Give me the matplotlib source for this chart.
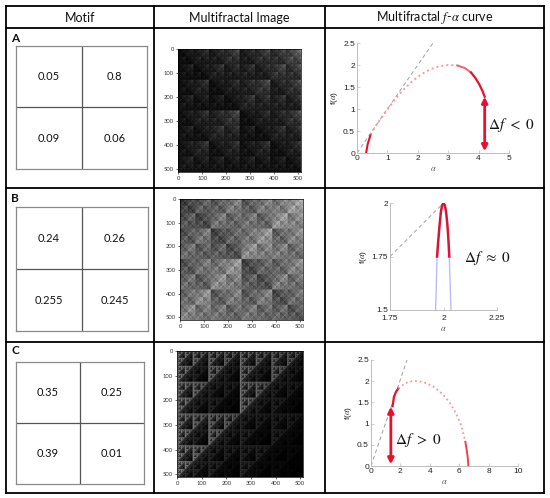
import numpy as np
import matplotlib
matplotlib.use("Agg")
import matplotlib.pyplot as plt
from matplotlib.lines import Line2D

# ---------------- data ----------------
motif_A = [[0.05, 0.8], [0.09, 0.06]]
motif_B = [[0.24, 0.26], [0.255, 0.245]]
motif_C = [[0.35, 0.25], [0.39, 0.01]]
row_labels = ["A", "B", "C"]
headers = ["Motif", "Multifractal Image", r"Multifractal $f$-$\alpha$ curve"]
cascade_levels = 9

# f-alpha curves
alpha_A = [0.30, 0.35, 0.45, 0.60, 0.80, 1.00, 1.25, 1.50, 1.80, 2.10, 2.40, 2.70,
           3.00, 3.30, 3.55, 3.75, 3.90, 4.03, 4.12, 4.20]
f_A = [0.00, 0.20, 0.42, 0.60, 0.80, 0.99, 1.22, 1.42, 1.62, 1.78, 1.90, 1.97,
       2.00, 1.99, 1.93, 1.83, 1.70, 1.55, 1.42, 1.28]
alpha_B_red = [1.970, 1.976, 1.982, 1.988, 1.994, 2.000, 2.006, 2.012, 2.018, 2.023, 2.027]
f_B_red = [1.75, 1.83, 1.90, 1.96, 1.99, 2.00, 1.99, 1.96, 1.90, 1.83, 1.75]
alpha_B_left_blue = [1.963, 1.970]
f_B_left_blue = [1.50, 1.75]
alpha_B_right_blue = [2.027, 2.035]
f_B_right_blue = [1.75, 1.50]
alpha_C = [1.47, 1.56, 1.70, 1.86, 2.31, 2.88, 3.40, 3.79, 4.25, 4.69, 5.05, 5.37,
           5.67, 5.94, 6.15, 6.28, 6.42, 6.51, 6.58, 6.62]
f_C = [1.41, 1.63, 1.75, 1.83, 1.95, 2.01, 1.99, 1.95, 1.87, 1.75, 1.63, 1.48,
       1.31, 1.13, 0.95, 0.77, 0.57, 0.38, 0.20, 0.02]

# reference (f = alpha) dashed lines
ref_A = ([0.0, 2.5], [0.0, 2.5])
ref_B = ([1.75, 1.99], [1.75, 1.99])
ref_C = ([0.0, 2.45], [0.0, 2.5])

# delta-f arrows (alpha, f_low, f_high)
arrow_A = (4.2, 0.04, 1.28)
arrow_C = (1.35, 0.04, 1.40)

delta_texts = [r"$\Delta f\ <\ 0$", r"$\Delta f\ \approx\ 0$", r"$\Delta f\ >\ 0$"]

# ---------------- helpers ----------------
W, H = 550, 498
plt.rcParams["font.family"] = ["Lato", "DejaVu Sans"]
plt.rcParams["mathtext.fontset"] = "stix"

fig = plt.figure(figsize=(W / 100, H / 100), dpi=100)


def ax_px(x0, y0, x1, y1):
    return fig.add_axes([x0 / W, 1 - y1 / H, (x1 - x0) / W, (y1 - y0) / H])


def hline(y, x0, x1, **kw):
    fig.add_artist(Line2D([x0 / W, x1 / W], [1 - y / H, 1 - y / H], **kw))


def vline(x, y0, y1, **kw):
    fig.add_artist(Line2D([x / W, x / W], [1 - y0 / H, 1 - y1 / H], **kw))


# ---------------- table frame ----------------
L, R, T, HB, B = 6, 544, 6, 28, 493
row_y = [HB, 188, 342, B]
col_x = [L, 154, 325, R]
lk = dict(color="black", lw=1.3)
for y in [T] + row_y:
    hline(y, L, R, **lk)
for x in col_x:
    vline(x, T, B, **lk)

for i, h in enumerate(headers):
    fig.text((col_x[i] + col_x[i + 1]) / 2 / W, 1 - 17.5 / H, h,
             ha="center", va="center", fontsize=9, color="#111111")

# ---------------- motif boxes ----------------
motifs = [motif_A, motif_B, motif_C]
motif_boxes = [(16, 46, 147, 169), (16, 207, 148, 331), (16, 362, 144, 484)]
label_y = [39, 198, 351]
for k, (m, box) in enumerate(zip(motifs, motif_boxes)):
    fig.text(11 / W, 1 - label_y[k] / H, row_labels[k], ha="left", va="center",
             fontsize=8.5, fontweight="bold", color="#111111")
    ax = ax_px(*box)
    ax.set_xlim(0, 2)
    ax.set_ylim(2, 0)
    ax.set_xticks([])
    ax.set_yticks([])
    for s in ax.spines.values():
        s.set_color("#8a8a8a")
        s.set_linewidth(0.9)
    ax.axvline(1, color="#555555", lw=0.9)
    ax.axhline(1, color="#555555", lw=0.9)
    for r in range(2):
        for c in range(2):
            ax.text(c + 0.5, r + 0.5, f"{m[r][c]:g}", ha="center", va="center",
                    fontsize=8, color="#111111")

# ---------------- multifractal images ----------------
img_boxes = [(178, 49, 301, 172), (180, 199, 303, 320), (177, 351, 303, 477)]
gammas = [0.1, 1.0, 0.3]
for m, box, g in zip(motifs, img_boxes, gammas):
    mm = np.array(m)
    img = mm.copy()
    for _ in range(cascade_levels - 1):
        img = np.kron(img, mm)
    v = (img / img.max()) ** g
    v = (v - v.min()) / (v.max() - v.min())
    ax = ax_px(*box)
    ax.imshow(v, cmap="gray", vmin=0, vmax=1, aspect="auto",
              interpolation="antialiased")
    ax.set_xticks([0, 100, 200, 300, 400, 500])
    ax.set_yticks([0, 100, 200, 300, 400, 500])
    ax.tick_params(labelsize=4.2, length=1.5, width=0.5, pad=1.5, colors="#333333")
    for s in ax.spines.values():
        s.set_linewidth(0.5)

# ---------------- f-alpha curves ----------------
TICKFONT = ["Liberation Sans", "DejaVu Sans"]


def style_fa(ax, xlim, ylim, xt, yt, xtl=None, ytl=None, xpad=1.5):
    ax.set_xlim(*xlim)
    ax.set_ylim(*ylim)
    ax.set_xticks(xt)
    ax.set_yticks(yt)
    if xtl is not None:
        ax.set_xticklabels(xtl)
    if ytl is not None:
        ax.set_yticklabels(ytl)
    for lab in ax.get_xticklabels() + ax.get_yticklabels():
        lab.set_family(TICKFONT)
    for s in ["top", "right"]:
        ax.spines[s].set_visible(False)
    for s in ["left", "bottom"]:
        ax.spines[s].set_color("#bdbdbd")
        ax.spines[s].set_linewidth(0.7)
    ax.tick_params(labelsize=6, length=2, width=0.5, direction="in", pad=1.5,
                   colors="#bdbdbd", labelcolor="#222222")
    ax.tick_params(axis="x", pad=xpad)
    ax.set_xlabel(r"$\alpha$", fontsize=6, labelpad=2, color="#555555")
    ax.set_ylabel(r"f($\alpha$)", fontsize=6, labelpad=2, color="#222222",
                  family=TICKFONT)
    ax.patch.set_alpha(0)


RED = "#e8112d"
PINK = "#f29a9a"

# A
ax = ax_px(357, 43, 509, 153)
style_fa(ax, (0, 5), (0, 2.5), [0, 1, 2, 3, 4, 5], [0, 0.5, 1, 1.5, 2, 2.5],
         ytl=["0", "0.5", "1", "1.5", "2", "2.5"])
ax.plot(*ref_A, ls=(0, (4, 3)), color="#a0a0a0", lw=0.7)
ax.plot(alpha_A[:3], f_A[:3], color=RED, lw=1.5, solid_capstyle="round")
ax.plot(alpha_A[2:14], f_A[2:14], color=PINK, lw=1.4, ls=(0, (1, 1.6)))
ax.plot(alpha_A[13:16], f_A[13:16], color="#f06070", lw=1.4)
ax.plot(alpha_A[15:], f_A[15:], color=RED, lw=1.6)
ax.annotate("", xy=(arrow_A[0], arrow_A[1]), xytext=(arrow_A[0], arrow_A[2]),
            arrowprops=dict(arrowstyle="<|-|>", color=RED, lw=2.0,
                            mutation_scale=8.5, shrinkA=0, shrinkB=0))
fig.text(511 / W, 1 - 125 / H, delta_texts[0], ha="center", va="center",
         fontsize=11, color="#111111")

# B
ax = ax_px(390, 203, 497, 310)
style_fa(ax, (1.75, 2.25), (1.5, 2.0), [1.75, 2.0, 2.25], [1.5, 1.75, 2.0],
         xtl=["1.75", "2", "2.25"], ytl=["1.5", "1.75", "2"], xpad=3.5)
ax.plot(*ref_B, ls=(0, (4, 3)), color="#a0a0a0", lw=0.7)
ax.plot(alpha_B_left_blue, f_B_left_blue, color="#b9bdf3", lw=1.0)
ax.plot(alpha_B_right_blue, f_B_right_blue, color="#b9bdf3", lw=1.0)
ax.plot(alpha_B_red, f_B_red, color="#d8143a", lw=1.8)
fig.text(487 / W, 1 - 258 / H, delta_texts[1], ha="center", va="center",
         fontsize=11, color="#111111")

# C
ax = ax_px(371, 360, 518, 466)
style_fa(ax, (0, 10), (0, 2.5), [0, 2, 4, 6, 8, 10], [0, 0.5, 1, 1.5, 2, 2.5],
         ytl=["0", "0.5", "1", "1.5", "2", "2.5"])
ax.plot(*ref_C, ls=(0, (4, 3)), color="#a0a0a0", lw=0.7)
ax.plot(alpha_C[:4], f_C[:4], color=RED, lw=1.6)
ax.plot(alpha_C[3:17], f_C[3:17], color=PINK, lw=1.3, ls=(0, (1, 1.6)))
ax.plot(alpha_C[16:], f_C[16:], color="#f04050", lw=1.4)
ax.annotate("", xy=(arrow_C[0], arrow_C[1]), xytext=(arrow_C[0], arrow_C[2]),
            arrowprops=dict(arrowstyle="<|-|>", color=RED, lw=2.0,
                            mutation_scale=8.5, shrinkA=0, shrinkB=0))
fig.text(418 / W, 1 - 440 / H, delta_texts[2], ha="center", va="center",
         fontsize=11, color="#111111")

fig.savefig("out.png", dpi=100)
